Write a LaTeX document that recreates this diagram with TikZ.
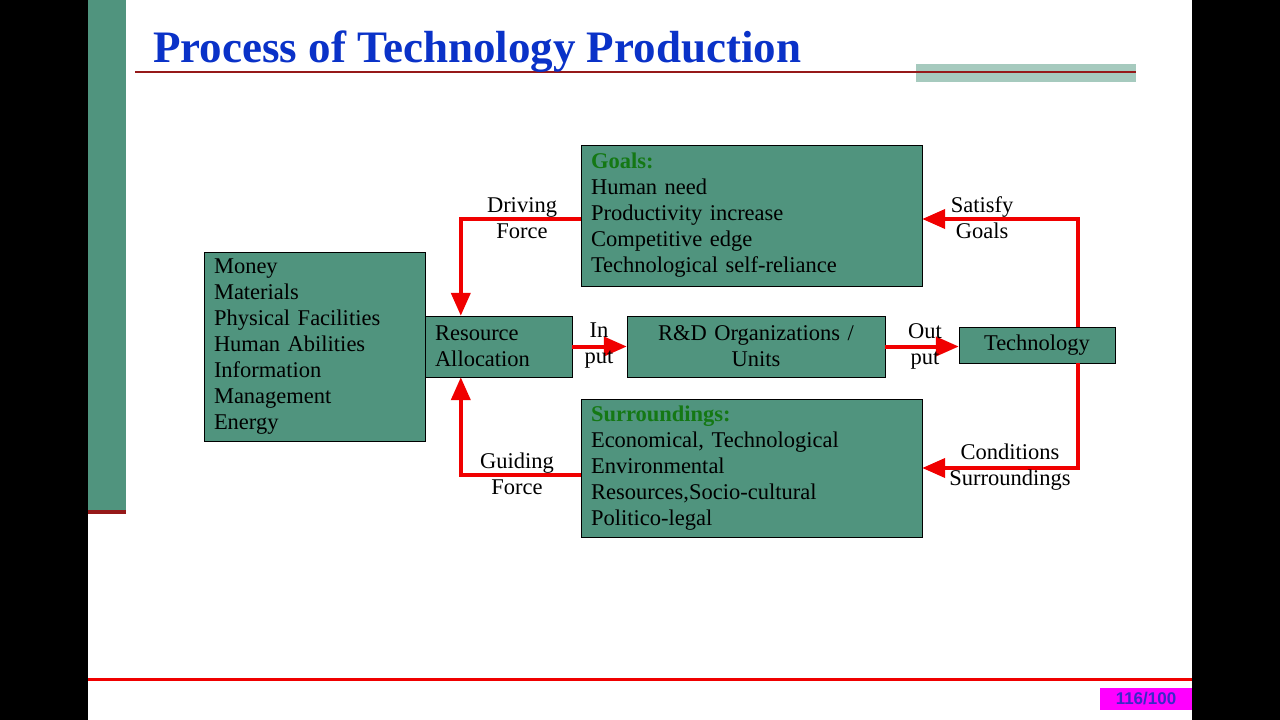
\documentclass[tikz,border=0pt]{standalone}
\usepackage{fontspec}
\setmainfont{Liberation Serif}
\setsansfont{Liberation Sans}
\usepackage{tikz}
\usetikzlibrary{arrows.meta, positioning}
\definecolor{boxgreen}{RGB}{80,148,126}
\definecolor{headgreen}{RGB}{20,120,20}
\definecolor{arrowred}{RGB}{240,0,0}
\definecolor{titleblue}{RGB}{10,50,200}
\definecolor{barteal}{RGB}{166,202,190}
\definecolor{darkred}{RGB}{150,25,25}
\definecolor{pagepink}{RGB}{255,0,255}
\definecolor{pageblue}{RGB}{60,40,200}

\begin{document}
\begin{tikzpicture}
                            [x=1pt, y=-1pt,
                             every node/.style={inner sep=0pt, font=\fontsize{22.5}{26}\selectfont},
                             box/.style={draw=black, fill=boxgreen, inner xsep=10pt, align=left},
                             flow/.style={draw=arrowred, line width=4pt, -{Triangle[length=23pt, width=19pt]}},
                             lbl/.style={align=center}]
    \useasboundingbox (0,0) rectangle (1280,720);
    % slide frame
    \fill[black] (0,0) rectangle (1280,720);
    \fill[white] (88,0) rectangle (1192,720);
    \fill[boxgreen] (88,0) rectangle (126,510);
    \fill[darkred] (88,510) rectangle (126,514);
    \fill[barteal] (916,64) rectangle (1136,82);
    \draw[darkred, line width=2pt] (135,72) -- (1136,72);
    \draw[arrowred, line width=3pt] (88,679) -- (1192,679);

    \node[anchor=base west, text=titleblue, font=\fontsize{45}{48}\selectfont\bfseries] (title) at (153,62) {Process of Technology Production};

    % boxes
    \node[box, text width=201pt, minimum height=189pt] (inputs) at (314.5,346.5)
        {Money\\Materials\\Physical Facilities\\Human Abilities\\Information\\Management\\Energy};
    \node[box, text width=321pt, minimum height=141pt] (goals) at (751.5,215.5)
        {\textcolor{headgreen}{\bfseries Goals:}\\Human need\\Productivity increase\\Competitive edge\\Technological self-reliance};
    \node[box, text width=321pt, minimum height=138pt] (surr) at (751.5,468)
        {\textcolor{headgreen}{\bfseries Surroundings:}\\Economical, Technological\\Environmental\\Resources,Socio-cultural\\Politico-legal};
    \node[box, text width=127pt, minimum height=61pt] (alloc) at (498.5,346.5) {Resource\\Allocation};
    \node[box, align=center, text width=238pt, minimum height=61pt] (rnd) at (756,346.5) {R\&D Organizations /\\Units};
    \node[box, align=center, text width=136pt, minimum height=36pt] (tech) at (1037,345) {Technology};

    % connectors
    \coordinate (dropin) at ([xshift=36pt]alloc.north west);
    \coordinate (risein) at ([xshift=36pt]alloc.south west);
    \draw[flow] ([yshift=-3.5pt]goals.west) -| (dropin);
    \draw[flow] ([yshift=-7pt]surr.west) -| (risein);
    \draw[flow] (alloc.east) -- (rnd.west);
    \draw[flow] (rnd.east) -- (rnd.east -| tech.west);
    \draw[flow] ([xshift=-37pt]tech.north east) |- ([yshift=-3.5pt]goals.east);
    \draw[flow] ([xshift=-37pt]tech.south east) |- (surr.east);

    % connector labels
    \node[lbl] (drive) at (522,218) {Driving\\Force};
    \node[lbl] (guide) at (517,474) {Guiding\\Force};
    \node[lbl] (inlbl) at (599,346) {In\\put};
    \node[lbl] (outlbl) at (925,346) {Out\\put};
    \node[lbl] (satisfy) at (982,218) {Satisfy\\Goals};
    \node[lbl] (cond) at (1010,467) {Conditions\\Surroundings};

    \node[fill=pagepink, minimum width=92pt, minimum height=22pt, text=pageblue, font=\fontsize{17}{20}\selectfont\sffamily\bfseries] (page) at (1146,699) {116/100};
\end{tikzpicture}
\end{document}
